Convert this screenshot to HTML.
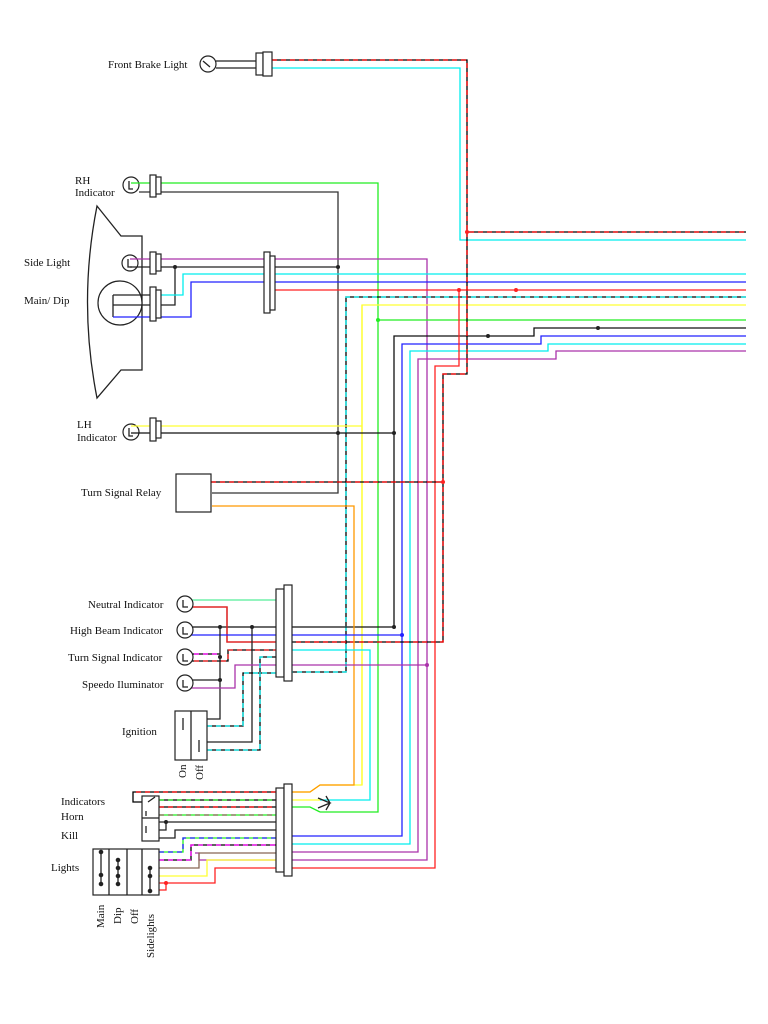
<!DOCTYPE html>
<html><head><meta charset="utf-8"><style>
html,body{margin:0;padding:0;background:#fff}
svg{display:block}
text{font-family:"Liberation Serif",serif;font-size:11px;fill:#111}
.k{stroke:#222;fill:none;stroke-width:1.3}
.w{fill:#fff;stroke:#222;stroke-width:1.2}
polyline,line{fill:none;stroke-width:1.3}
</style></head><body>
<svg width="768" height="1024" viewBox="0 0 768 1024" xmlns="http://www.w3.org/2000/svg">
<defs></defs>
<!-- Front brake light -->
<text x="108" y="68">Front Brake Light</text>
<circle cx="208" cy="64" r="8" class="w"/>
<line x1="203" y1="61" x2="210" y2="67" stroke="#222"/>
<line x1="216" y1="61" x2="257" y2="61" stroke="#222"/>
<line x1="216" y1="68" x2="257" y2="68" stroke="#222"/>
<polyline points="272,60 467,60 467,232 746,232" stroke="#000"/>
<polyline points="272,60 467,60 467,232 746,232" stroke="#f00" stroke-dasharray="5,4"/>
<polyline points="272,68 460,68 460,240 746,240" stroke="#0ee"/>
<rect x="256" y="53" width="7" height="22" class="w"/><rect x="263" y="52" width="9" height="24" class="w"/>

<!-- headlight shell -->
<path d="M97,206 L121,236 L142,236 L142,370 L121,370 L97,398 Q78,302 97,206 Z" class="k"/>
<circle cx="120" cy="303" r="22" class="w"/>
<line x1="113" y1="295" x2="113" y2="317" stroke="#222"/>

<!-- RH indicator -->
<text x="75" y="184">RH</text><text x="75" y="196">Indicator</text>
<circle cx="131" cy="185" r="8" class="w"/><path d="M129,181 v8 h4" class="k" stroke-width="1"/>
<polyline points="131,183 378,183 378,812 320,812" stroke="#2e2"/>
<polyline points="139,192 338,192 338,493 212,493" stroke="#333" stroke-width="1.6"/>
<rect x="150" y="175" width="6" height="22" class="w"/><rect x="156" y="177" width="5" height="17" class="w"/>

<!-- Side light -->
<text x="24" y="266">Side Light</text>
<circle cx="130" cy="263" r="8" class="w"/><path d="M128,259 v8 h4" class="k" stroke-width="1"/>
<polyline points="130,259 427,259 427,860 199,860 199,853 195,853" stroke="#a3a"/>
<polyline points="130,267 338,267" stroke="#222"/>
<polyline points="113,305 175,305 175,267" stroke="#222"/>
<polyline points="113,295 160,295" stroke="#222"/>
<polyline points="160,295 183,295 183,274 746,274" stroke="#0ee"/>
<polyline points="113,317 191,317 191,282 746,282" stroke="#22f"/>
<polyline points="275,290 746,290" stroke="#f22"/>
<rect x="150" y="252" width="6" height="22" class="w"/><rect x="156" y="254" width="5" height="17" class="w"/>
<rect x="150" y="287" width="6" height="34" class="w"/><rect x="156" y="290" width="5" height="28" class="w"/>
<rect x="264" y="252" width="6" height="61" class="w"/><rect x="270" y="256" width="5" height="54" class="w"/>
<text x="24" y="304">Main/ Dip</text>

<!-- right trunk lines -->
<polyline points="746,297 346,297 346,672 292,672" stroke="#000"/>
<polyline points="746,297 346,297 346,672 292,672" stroke="#0ee" stroke-dasharray="5,4"/>
<polyline points="746,305 362,305 362,785 320,785 310,792 292,792" stroke="#ff3" stroke-width="1.6"/>
<polyline points="362,785 362,305" stroke="#ff3" stroke-width="1.6"/>
<polyline points="746,320 378,320" stroke="#2e2"/>
<polyline points="746,328 534,328 534,336 394,336 394,627 190,627" stroke="#111"/>
<polyline points="746,336 541,336 541,344 402,344 402,836 292,836" stroke="#22f"/>
<polyline points="746,344 548,344 548,351 410,351 410,844 292,844" stroke="#0ee"/>
<polyline points="746,351 556,351 556,359 418,359 418,852 292,852" stroke="#a3a"/>
<polyline points="459,290 459,366 435,366 435,868 292,868" stroke="#f22" stroke-width="1.4"/>
<polyline points="467,232 467,374 443,374 443,642 227,642 227,607 190,607" stroke="#000"/>
<polyline points="467,232 467,374 443,374 443,642 292,642" stroke="#f00" stroke-dasharray="5,4"/>
<polyline points="292,642 227,642 227,607 190,607" stroke="#f22"/>
<polyline points="212,506 354,506 354,785 320,785 310,792 292,792" stroke="#f90"/>

<!-- LH indicator -->
<text x="77" y="428">LH</text><text x="77" y="441">Indicator</text>
<circle cx="131" cy="432" r="8" class="w"/><path d="M129,428 v8 h4" class="k" stroke-width="1"/>
<polyline points="131,426 362,426" stroke="#ff3" stroke-width="1.6"/>
<polyline points="131,433 394,433" stroke="#111"/>
<rect x="150" y="418" width="6" height="23" class="w"/><rect x="156" y="421" width="5" height="17" class="w"/>

<!-- Turn signal relay -->
<text x="81" y="496">Turn Signal Relay</text>
<polyline points="211,482 443,482" stroke="#000"/>
<polyline points="211,482 443,482" stroke="#f00" stroke-dasharray="5,4"/>
<rect x="176" y="474" width="35" height="38" class="w"/>

<!-- dots -->
<g fill="#222">
<circle cx="175" cy="267" r="2"/><circle cx="338" cy="267" r="2"/><circle cx="338" cy="433" r="2"/><circle cx="394" cy="433" r="2"/>
<circle cx="488" cy="336" r="2"/><circle cx="598" cy="328" r="2"/><circle cx="220" cy="627" r="2"/><circle cx="252" cy="627" r="2"/>
<circle cx="394" cy="627" r="2"/><circle cx="220" cy="657" r="2"/><circle cx="220" cy="680" r="2"/><circle cx="166" cy="822" r="2"/>
</g>
<g fill="#f22"><circle cx="459" cy="290" r="2"/><circle cx="516" cy="290" r="2"/><circle cx="467" cy="232" r="2"/><circle cx="443" cy="482" r="2"/><circle cx="166" cy="883" r="2"/></g>
<circle cx="378" cy="320" r="2" fill="#2e2"/><circle cx="402" cy="635" r="2" fill="#22f"/><circle cx="427" cy="665" r="2" fill="#a3a"/>

<!-- instrument indicators -->
<text x="88" y="608">Neutral Indicator</text>
<text x="70" y="634">High Beam Indicator</text>
<text x="68" y="661">Turn Signal Indicator</text>
<text x="82" y="688">Speedo Iluminator</text>
<polyline points="185,600 283,600" stroke="#5e9"/>
<polyline points="185,635 402,635" stroke="#22f"/>
<polyline points="185,654 220,654" stroke="#000"/>
<polyline points="185,654 220,654" stroke="#f0f" stroke-dasharray="5,4"/>
<polyline points="185,661 228,661 228,650 276,650" stroke="#000"/>
<polyline points="185,661 228,661 228,650 276,650" stroke="#f22" stroke-dasharray="5,4"/>
<polyline points="292,650 370,650 370,800 320,800" stroke="#0ee"/>
<polyline points="185,680 220,680" stroke="#222"/>
<polyline points="220,627 220,719 207,719" stroke="#222"/>
<polyline points="252,627 252,742 207,742" stroke="#222"/>
<polyline points="185,688 235,688 235,665 427,665" stroke="#a3a"/>
<polyline points="207,726 243,726 243,673 276,673" stroke="#000"/>
<polyline points="207,726 243,726 243,673 276,673" stroke="#0ee" stroke-dasharray="5,4"/>
<polyline points="207,750 260,750 260,657 276,657" stroke="#000"/>
<polyline points="207,750 260,750 260,657 276,657" stroke="#0ee" stroke-dasharray="5,4"/>
<g>
<circle cx="185" cy="604" r="8" class="w"/><path d="M183,600 v7 h5" class="k" stroke-width="1"/>
<circle cx="185" cy="630" r="8" class="w"/><path d="M183,627 v7 h5" class="k" stroke-width="1"/>
<circle cx="185" cy="657" r="8" class="w"/><path d="M183,654 v7 h5" class="k" stroke-width="1"/>
<circle cx="185" cy="683" r="8" class="w"/><path d="M183,680 v7 h5" class="k" stroke-width="1"/>
</g>
<rect x="276" y="589" width="8" height="88" class="w"/><rect x="284" y="585" width="8" height="96" class="w"/>

<!-- Ignition -->
<text x="122" y="735">Ignition</text>
<rect x="175" y="711" width="32" height="49" class="w"/><line x1="191" y1="711" x2="191" y2="760" stroke="#222"/>
<line x1="183" y1="718" x2="183" y2="730" stroke="#222"/><line x1="199" y1="740" x2="199" y2="752" stroke="#222"/>
<text transform="translate(186,778) rotate(-90)">On</text>
<text transform="translate(203,780) rotate(-90)">Off</text>

<!-- Handlebar switches -->
<text x="61" y="805">Indicators</text>
<text x="61" y="820">Horn</text>
<text x="61" y="839">Kill</text>
<text x="51" y="871">Lights</text>
<polyline points="292,792 133,792 133,802 142,802" stroke="#000"/>
<polyline points="276,792 133,792" stroke="#f00" stroke-dasharray="5,4"/>
<polyline points="150,800 276,800" stroke="#000"/><polyline points="150,800 276,800" stroke="#2e2" stroke-dasharray="5,4"/>
<polyline points="292,800 310,800 320,800" stroke="#ff3" stroke-width="1.6"/>
<polyline points="150,807 276,807" stroke="#000"/><polyline points="150,807 276,807" stroke="#f00" stroke-dasharray="5,4"/>
<polyline points="292,807 310,807 320,812" stroke="#2e2"/>
<polyline points="150,815 276,815" stroke="#2e2"/><polyline points="150,815 276,815" stroke="#865" stroke-dasharray="5,4"/>
<polyline points="150,822 276,822" stroke="#222"/><polyline points="150,830 166,830 166,822" stroke="#222"/>
<polyline points="150,838 175,838 175,830 276,830" stroke="#222"/>
<rect x="142" y="796" width="17" height="45" class="w"/>
<line x1="142" y1="818" x2="159" y2="818" stroke="#222"/>
<line x1="148" y1="802" x2="155" y2="797" stroke="#222"/><line x1="146" y1="811" x2="146" y2="816" stroke="#222"/><line x1="146" y1="826" x2="146" y2="833" stroke="#222"/>
<path d="M318,798 l12,5 l-12,5 M326,796 l4,7 l-4,7" class="k" stroke-width="1"/>
<polyline points="159,852 183,852 183,838 276,838" stroke="#2e2"/><polyline points="159,852 183,852 183,838 276,838" stroke="#22f" stroke-dasharray="5,4"/>
<polyline points="159,860 191,860 191,845 276,845" stroke="#000"/><polyline points="159,860 191,860 191,845 276,845" stroke="#f0f" stroke-dasharray="5,4"/>
<polyline points="159,868 199,868 199,853 276,853" stroke="#865"/>
<polyline points="159,876 207,876 207,860 292,860" stroke="#ff3" stroke-width="1.6"/>
<polyline points="159,883 166,883 166,890 159,890" stroke="#f22"/>
<polyline points="166,883 215,883 215,868 276,868" stroke="#f22"/>
<rect x="93" y="849" width="66" height="46" class="w"/>
<line x1="109" y1="849" x2="109" y2="895" stroke="#222"/><line x1="127" y1="849" x2="127" y2="895" stroke="#222"/><line x1="142" y1="849" x2="142" y2="895" stroke="#222"/>
<g stroke="#222" fill="#222"><line x1="101" y1="852" x2="101" y2="884"/><circle cx="101" cy="852" r="1.8"/><circle cx="101" cy="875" r="1.8"/><circle cx="101" cy="884" r="1.8"/>
<line x1="118" y1="860" x2="118" y2="884"/><circle cx="118" cy="860" r="1.8"/><circle cx="118" cy="868" r="1.8"/><circle cx="118" cy="876" r="1.8"/><circle cx="118" cy="884" r="1.8"/>
<line x1="150" y1="868" x2="150" y2="891"/><circle cx="150" cy="868" r="1.8"/><circle cx="150" cy="876" r="1.8"/><circle cx="150" cy="891" r="1.8"/></g>
<rect x="276" y="788" width="8" height="84" class="w"/><rect x="284" y="784" width="8" height="92" class="w"/>
<text transform="translate(104,928) rotate(-90)">Main</text>
<text transform="translate(121,924) rotate(-90)">Dip</text>
<text transform="translate(138,924) rotate(-90)">Off</text>
<text transform="translate(154,958) rotate(-90)">Sidelights</text>
</svg>
</body></html>
